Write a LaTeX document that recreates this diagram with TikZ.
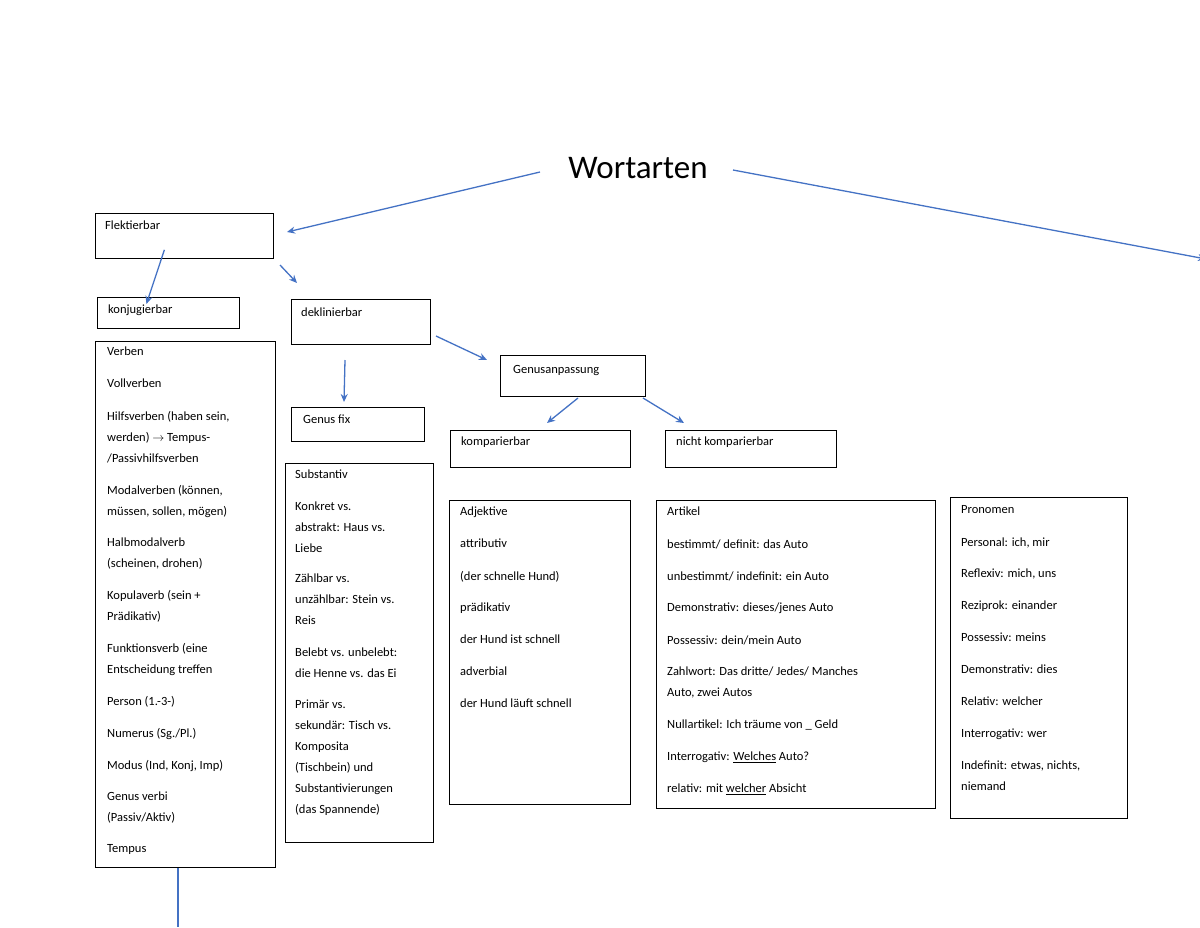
\documentclass[tikz,border=0pt]{standalone}
\usepackage{fontspec}
\setmainfont{Carlito}
\usetikzlibrary{arrows.meta}
\definecolor{blu}{HTML}{4472C4}
\begin{document}
\begin{tikzpicture}[x=1pt,y=-1pt,
 box/.style={draw,line width=0.8pt,anchor=north west,inner sep=0},
 t/.style={anchor=north west,inner sep=0,align=left,font=\fontsize{12.5}{21}\selectfont},
 ar/.style={blu,line width=1.3pt,-{Stealth[length=8pt,width=7pt]}}]
\useasboundingbox (0,0) rectangle (1200,927);
\node[font=\fontsize{33}{36}\selectfont] (w) at (638,168) {Wortarten};
% boxes
\node[box,minimum width=178,minimum height=45] (flek) at (95,213) {};
\node[box,minimum width=142,minimum height=31] (konj) at (97,297) {};
\node[box,minimum width=139,minimum height=45] (dekl) at (291,299) {};
\node[box,minimum width=145,minimum height=41] (genA) at (500,355) {};
\node[box,minimum width=133,minimum height=34] (genF) at (291,407) {};
\node[box,minimum width=180,minimum height=37] (komp) at (450,430) {};
\node[box,minimum width=171,minimum height=37] (nkomp) at (665,430) {};
\node[box,minimum width=180,minimum height=526] (verb) at (95,341) {};
\node[box,minimum width=148,minimum height=379] (subs) at (285,463) {};
\node[box,minimum width=181,minimum height=304] (adj) at (449,500) {};
\node[box,minimum width=279,minimum height=308] (art) at (656,500) {};
\node[box,minimum width=177,minimum height=321] (pron) at (950,497) {};
% labels
\node[t] (l1) at (105,221) {Flektierbar};
\node[t] (l2) at (108,305) {konjugierbar};
\node[t] (l3) at (301,308) {deklinierbar};
\node[t] (l4) at (513,365) {Genusanpassung};
\node[t] (l5) at (303,415) {Genus fix};
\node[t] (l6) at (461,437) {komparierbar};
\node[t] (l7) at (676,437) {nicht komparierbar};
% Verben
\node[t] (v1) at (107,347) {Verben};
\node[t] (v2) at (107,379) {Vollverben};
\node[t] (v3) at (107,411) {Hilfsverben (haben sein,\\werden) $\rightarrow$ Tempus-\\/Passivhilfsverben};
\node[t] (v4) at (107,485) {Modalverben (können,\\müssen, sollen, mögen)};
\node[t] (v5) at (107,538) {Halbmodalverb\\(scheinen, drohen)};
\node[t] (v6) at (107,590) {Kopulaverb (sein +\\Prädikativ)};
\node[t] (v7) at (107,643) {Funktionsverb (eine\\Entscheidung treffen};
\node[t] (v8) at (107,696) {Person (1.-3-)};
\node[t] (v9) at (107,728) {Numerus (Sg./Pl.)};
\node[t] (v10) at (107,760) {Modus (Ind, Konj, Imp)};
\node[t] (v11) at (107,792) {Genus verbi\\(Passiv/Aktiv)};
\node[t] (v12) at (107,844) {Tempus};
% Substantiv
\node[t] (s1) at (295,470) {Substantiv};
\node[t] (s2) at (295,502) {Konkret vs.\\abstrakt: Haus vs.\\Liebe};
\node[t] (s3) at (295,574) {Zählbar vs.\\unzählbar: Stein vs.\\Reis};
\node[t] (s4) at (295,648) {Belebt vs. unbelebt:\\die Henne vs. das Ei};
\node[t] (s5) at (295,700) {Primär vs.\\sekundär: Tisch vs.\\Komposita\\(Tischbein) und\\Substantivierungen\\(das Spannende)};
% Adjektive
\node[t] (a1) at (460,507) {Adjektive};
\node[t] (a2) at (460,539) {attributiv};
\node[t] (a3) at (460,571) {(der schnelle Hund)};
\node[t] (a4) at (460,603) {prädikativ};
\node[t] (a5) at (460,635) {der Hund ist schnell};
\node[t] (a6) at (460,667) {adverbial};
\node[t] (a7) at (460,699) {der Hund läuft schnell};
% Artikel
\node[t] (r1) at (667,507) {Artikel};
\node[t] (r2) at (667,540) {bestimmt/ definit: das Auto};
\node[t] (r3) at (667,572) {unbestimmt/ indefinit: ein Auto};
\node[t] (r4) at (667,603) {Demonstrativ: dieses/jenes Auto};
\node[t] (r5) at (667,636) {Possessiv: dein/mein Auto};
\node[t] (r6) at (667,667) {Zahlwort: Das dritte/ Jedes/ Manches\\Auto, zwei Autos};
\node[t] (r7) at (667,720) {Nullartikel: Ich träume von \_ Geld};
\node[t] (r8) at (667,752) {Interrogativ: \underline{Welches} Auto?};
\node[t] (r9) at (667,784) {relativ: mit \underline{welcher} Absicht};
% Pronomen
\node[t] (p1) at (961,505) {Pronomen};
\node[t] (p2) at (961,538) {Personal: ich, mir};
\node[t] (p3) at (961,569) {Reflexiv: mich, uns};
\node[t] (p4) at (961,601) {Reziprok: einander};
\node[t] (p5) at (961,633) {Possessiv: meins};
\node[t] (p6) at (961,665) {Demonstrativ: dies};
\node[t] (p7) at (961,697) {Relativ: welcher};
\node[t] (p8) at (961,729) {Interrogativ: wer};
\node[t] (p9) at (961,761) {Indefinit: etwas, nichts,\\niemand};
% connectors
\coordinate (wl) at (540,172); \coordinate (fe) at (287,232);
\coordinate (wr) at (733,170); \coordinate (re) at (1206,259);
\draw[ar] (wl) -- (fe);
\draw[ar] (wr) -- (re);
\draw[ar] ([xshift=-4pt,yshift=9pt]flek.south-|konj.north) -- ([xshift=-22pt,yshift=-7pt]konj.north);
\draw[ar] (280,265) coordinate (f2) -- (297,283) coordinate (d2);
\draw[ar] (436,336) coordinate (d3) -- (487,360) coordinate (g3);
\draw[ar] (345,360) coordinate (d4) -- (344,402) coordinate (gf);
\draw[ar] (578,398) coordinate (g5) -- (547,423) coordinate (k5);
\draw[ar] (643,398) coordinate (g6) -- (684,423) coordinate (k6);
\draw[blu,line width=1.3pt] (178,868) coordinate (vb) -- (178,927) coordinate (ve);
\end{tikzpicture}
\end{document}
